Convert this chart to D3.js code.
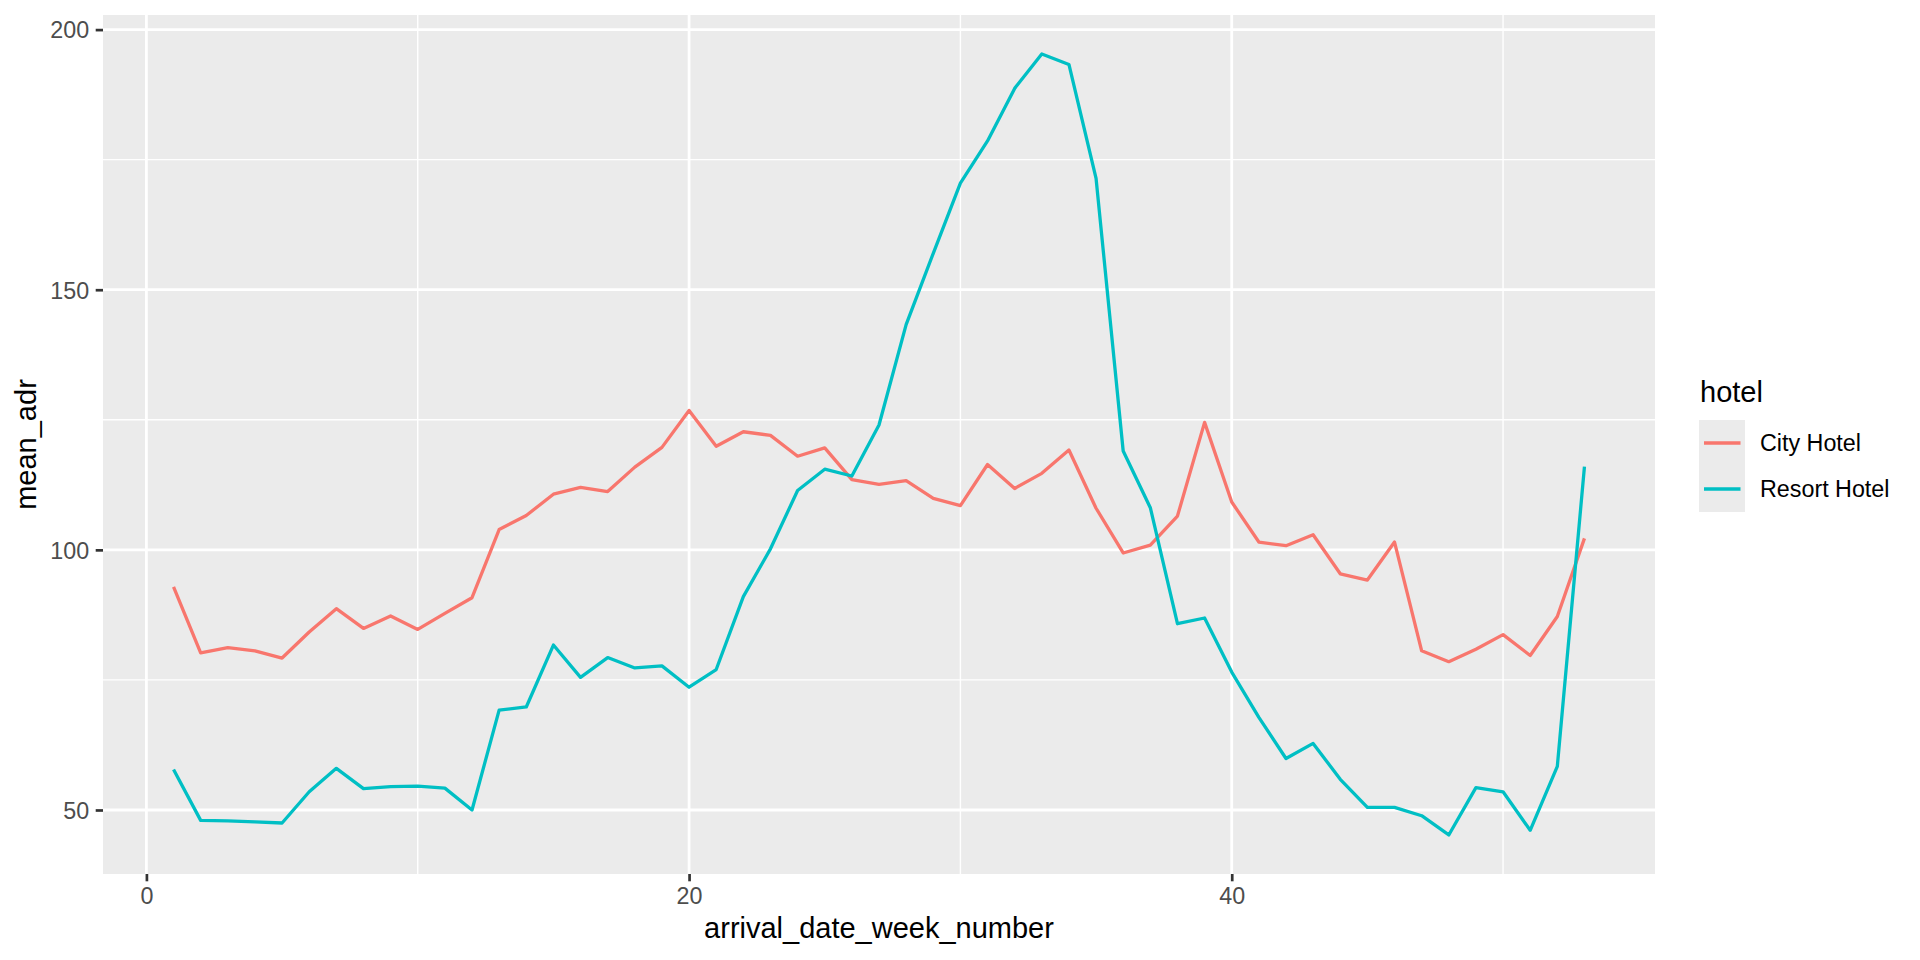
<!DOCTYPE html>
<html lang="en">
<head>
<meta charset="UTF-8">
<title>mean adr by week</title>
<script src="https://d3js.org/d3.v7.min.js"></script>
<style>
	body { margin: 0; background: #fff; }
	svg text { font-family: "Liberation Sans", Arial, sans-serif; }
	.tick line { stroke: #333333; stroke-width: 2.7px; }
	.tick text { fill: #4d4d4d; font-size: 23.3px; }
</style>
</head>
<body>
<svg id="chart" width="1920" height="960"></svg>
<script>
// week numbers 1..53
const weeks = [1,2,3,4,5,6,7,8,9,10,11,12,13,14,15,16,17,18,19,20,21,22,23,24,25,26,27,
	28,29,30,31,32,33,34,35,36,37,38,39,40,41,42,43,44,45,46,47,48,49,50,51,52,53];

const cityAdr = [92.9,80.2,81.2,80.6,79.2,84.2,88.7,84.9,87.3,84.7,87.8,90.8,103.9,106.6,110.7,112.0,111.2,115.9,119.7,126.8,
	119.9,122.7,122.0,118.0,119.6,113.5,112.6,113.3,109.9,108.5,116.4,111.8,114.7,119.2,108.0,99.4,100.9,106.5,124.5,109.2,
	101.5,100.8,102.9,95.4,94.2,101.5,80.6,78.5,80.9,83.7,79.7,87.2,102.2];

const resortAdr = [57.8,48.0,47.9,47.7,47.5,53.5,58.0,54.1,54.5,54.6,54.2,50.0,69.2,69.8,81.7,75.5,79.3,77.3,77.7,73.6,
	77.0,91.0,100.2,111.4,115.5,114.2,124.0,143.3,157.0,170.5,178.6,188.7,195.3,193.3,171.4,119.0,108.1,85.8,86.9,76.5,
	67.8,59.9,62.8,55.9,50.5,50.5,48.9,45.2,54.3,53.5,46.1,58.4,116.0];

const hotels = ["City Hotel", "Resort Hotel"];
const hotelColors = ["#F8766D", "#00BFC4"];

const xBreaks = [0, 20, 40];
const yBreaks = [50, 100, 150, 200];

const series = [
	{name: hotels[0], values: cityAdr},
	{name: hotels[1], values: resortAdr}
];

const svg = d3.select("#chart");
const panel = {left: 103, right: 1655, top: 15, bottom: 874};

// ggplot style 5% expansion
function expand(ext) {
	const pad = (ext[1] - ext[0]) * 0.05;
	return [ext[0] - pad, ext[1] + pad];
}
const allY = cityAdr.concat(resortAdr);
const x = d3.scaleLinear().domain(expand(d3.extent(weeks))).range([panel.left, panel.right]);
const y = d3.scaleLinear().domain(expand(d3.extent(allY))).range([panel.bottom, panel.top]);

function minorBreaks(breaks, domain) {
	const step = breaks[1] - breaks[0];
	const out = [];
	for (let v = breaks[0] - step / 2; v <= domain[1]; v += step) {
		if (v >= domain[0]) out.push(v);
	}
	return out;
}

// panel background
svg.append("rect")
	.attr("x", panel.left).attr("y", panel.top)
	.attr("width", panel.right - panel.left)
	.attr("height", panel.bottom - panel.top)
	.attr("fill", "#EBEBEB");

const grid = svg.append("g");
grid.selectAll(".ymin").data(minorBreaks(yBreaks, y.domain())).join("line")
	.attr("x1", panel.left).attr("x2", panel.right)
	.attr("y1", d => y(d)).attr("y2", d => y(d))
	.attr("stroke", "#fff").attr("stroke-width", 1.4);
grid.selectAll(".xmin").data(minorBreaks(xBreaks, x.domain())).join("line")
	.attr("y1", panel.top).attr("y2", panel.bottom)
	.attr("x1", d => x(d)).attr("x2", d => x(d))
	.attr("stroke", "#fff").attr("stroke-width", 1.4);
grid.selectAll(".ymaj").data(yBreaks).join("line")
	.attr("x1", panel.left).attr("x2", panel.right)
	.attr("y1", d => y(d)).attr("y2", d => y(d))
	.attr("stroke", "#fff").attr("stroke-width", 2.8);
grid.selectAll(".xmaj").data(xBreaks).join("line")
	.attr("y1", panel.top).attr("y2", panel.bottom)
	.attr("x1", d => x(d)).attr("x2", d => x(d))
	.attr("stroke", "#fff").attr("stroke-width", 2.8);

// lines
const line = d3.line()
	.x((d, i) => x(weeks[i]))
	.y(d => y(d));

svg.append("g")
	.selectAll("path")
	.data(series)
	.join("path")
	.attr("d", d => line(d.values))
	.attr("fill", "none")
	.attr("stroke", (d, i) => hotelColors[i])
	.attr("stroke-width", 3.3)
	.attr("stroke-linejoin", "round");

// axes
const xAxis = svg.append("g")
	.attr("transform", "translate(0," + panel.bottom + ")")
	.call(d3.axisBottom(x).tickValues(xBreaks).tickSize(7.3).tickPadding(5.8));
xAxis.select(".domain").remove();
xAxis.selectAll(".tick text").attr("dy", "0.71em");

const yAxis = svg.append("g")
	.attr("transform", "translate(" + panel.left + ",0)")
	.call(d3.axisLeft(y).tickValues(yBreaks).tickSize(7.3).tickPadding(6.5));
yAxis.select(".domain").remove();
yAxis.selectAll(".tick text").attr("dy", "0.36em");

// axis titles
svg.append("text")
	.attr("x", (panel.left + panel.right) / 2)
	.attr("y", 938)
	.attr("text-anchor", "middle")
	.attr("font-size", "29px")
	.attr("fill", "#000")
	.text("arrival_date_week_number");

svg.append("text")
	.attr("transform", "translate(36," + (panel.top + panel.bottom) / 2 + ") rotate(-90)")
	.attr("text-anchor", "middle")
	.attr("font-size", "29px")
	.attr("fill", "#000")
	.text("mean_adr");

// legend
const legend = svg.append("g").attr("transform", "translate(1699,420)");
legend.append("text")
	.attr("x", 1).attr("y", -18)
	.attr("font-size", "29px")
	.attr("fill", "#000")
	.text("hotel");

const keySize = 46;
const keys = legend.selectAll(".key")
	.data(hotels)
	.join("g")
	.attr("transform", (d, i) => "translate(0," + i * keySize + ")");
keys.append("rect")
	.attr("width", keySize).attr("height", keySize)
	.attr("fill", "#EBEBEB");
keys.append("line")
	.attr("x1", 5).attr("x2", keySize - 4.5)
	.attr("y1", keySize / 2).attr("y2", keySize / 2)
	.attr("stroke", (d, i) => hotelColors[i])
	.attr("stroke-width", 3.3);
keys.append("text")
	.attr("x", 61).attr("y", keySize / 2)
	.attr("dy", "0.36em")
	.attr("font-size", "23.3px")
	.attr("fill", "#000")
	.text(d => d);
</script>
</body>
</html>
